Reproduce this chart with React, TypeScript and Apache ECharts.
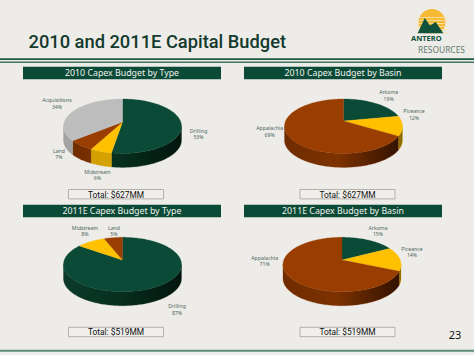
import React, { useEffect, useRef } from "react";
import * as echarts from "echarts";

const typeNames2010 = ["Drilling", "Midstream", "Land", "Acquisitions"];
const typeValues2010 = [53, 6, 7, 34];
const basinNames2010 = ["Arkoma", "Piceance", "Appalachia"];
const basinValues2010 = [19, 12, 69];
const typeNames2011 = ["Drilling", "Midstream", "Land"];
const typeValues2011 = [87, 8, 5];
const basinNames2011 = ["Arkoma", "Piceance", "Appalachia"];
const basinValues2011 = [15, 14, 71];

const GREEN = "#0b4a36";
const YELLOW = "#ffc000";
const RUST = "#993d00";
const GRAY = "#bdbdbd";
const BG = "#eeece8";
const LABEL = "#4d665d";

const sideStops: Record<string, string[]> = {
  [GREEN]: ["#0b3a2b", "#07301f", "#03150e"],
  [YELLOW]: ["#c99a00", "#d6a300", "#8a6a00"],
  [RUST]: ["#6f2c00", "#7d3200", "#301100"],
  [GRAY]: ["#a3a3a3", "#a3a3a3", "#6a6a6a"],
};

type Pie = {
  names: string[];
  values: number[];
  colors: string[];
  cx: number;
  top: number;
  vertexY: number;
  labels: number[][];
};

const pies: Pie[] = [
  {
    names: typeNames2010,
    values: typeValues2010,
    colors: [GREEN, YELLOW, RUST, GRAY],
    cx: 122.5,
    top: 99,
    vertexY: 122,
    labels: [[198.5, 134], [97.5, 175], [59, 154], [57, 103.5]],
  },
  {
    names: basinNames2010,
    values: basinValues2010,
    colors: [GREEN, YELLOW, RUST],
    cx: 343.5,
    top: 99,
    vertexY: 121,
    labels: [[388.7, 95.5], [414, 114.5], [269.7, 131.5]],
  },
  {
    names: typeNames2011,
    values: typeValues2011,
    colors: [GREEN, YELLOW, RUST],
    cx: 122.5,
    top: 237.3,
    vertexY: 260,
    labels: [[177, 309.5], [85, 231], [114, 231]],
  },
  {
    names: basinNames2011,
    values: basinValues2011,
    colors: [GREEN, YELLOW, RUST],
    cx: 342,
    top: 237.3,
    vertexY: 260,
    labels: [[378, 231], [412, 252], [264.7, 261]],
  },
];

const RX = 59;
const RY = 27.2;
const DEPTH = 14;

function pieSeries(p: Pie) {
  const total = p.values.reduce((a, b) => a + b, 0);
  const ey = p.top + RY;
  const rim = (t: number, dy = 0) => [
    p.cx + RX * Math.sin(t),
    ey - RY * Math.cos(t) + dy,
  ];
  return {
    type: "custom",
    coordinateSystem: "none",
    silent: true,
    data: p.values.map((v) => [v]),
    renderItem: (params: any, api: any) => {
      const i = params.dataIndex;
      const before = p.values.slice(0, i).reduce((a, b) => a + b, 0);
      const a0 = (before / total) * Math.PI * 2;
      const a1 = ((before + api.value(0)) / total) * Math.PI * 2;
      const color = p.colors[i];
      const step = Math.PI / 120;
      const arc = (s: number, e: number, dy = 0) => {
        const pts: number[][] = [];
        for (let t = s; t < e; t += step) pts.push(rim(t, dy));
        pts.push(rim(e, dy));
        return pts;
      };
      const children: any[] = [];
      const s = Math.max(a0, Math.PI / 2);
      const e = Math.min(a1, (Math.PI * 3) / 2);
      if (e > s) {
        const stops = sideStops[color];
        children.push({
          type: "polygon",
          shape: { points: [...arc(s, e), ...arc(s, e, DEPTH).reverse()] },
          style: {
            fill: new echarts.graphic.LinearGradient(
              p.cx - RX, 0, p.cx + RX, 0,
              [
                { offset: 0, color: stops[0] },
                { offset: 0.45, color: stops[1] },
                { offset: 1, color: stops[2] },
              ],
              true
            ),
            stroke: stops[1],
            lineWidth: 0.3,
          },
        });
      }
      children.push({
        type: "polygon",
        shape: { points: [[p.cx, p.vertexY], ...arc(a0, a1)] },
        style: { fill: color, stroke: color, lineWidth: 0.3 },
      });
      const [lx, ly] = p.labels[i];
      children.push({
        type: "text",
        x: lx,
        y: ly,
        style: {
          text: `${p.names[i]}\n${api.value(0)}%`,
          fill: LABEL,
          font: '5.2px "Noto Sans"',
          lineHeight: 6.6,
          align: "center",
          verticalAlign: "middle",
        },
      });
      return { type: "group", children };
    },
  };
}

const headers = [
  { text: "2010 Capex Budget by Type", x: 23, y: 66.7 },
  { text: "2010 Capex Budget by Basin", x: 244, y: 66.7 },
  { text: "2011E Capex Budget by Type", x: 23, y: 204.7 },
  { text: "2011E Capex Budget by Basin", x: 244, y: 204.7 },
];
const totals = [
  { text: "Total: $627MM", x: 68.5, y: 189.5 },
  { text: "Total: $627MM", x: 300, y: 189.5 },
  { text: "Total: $519MM", x: 68.5, y: 327.3 },
  { text: "Total: $519MM", x: 300, y: 327.3 },
];
const FONT = '"Noto Sans"';

function graphics() {
  const g: any[] = [];
  const rect = (x: number, y: number, w: number, h: number, style: any) =>
    g.push({ type: "rect", shape: { x, y, width: w, height: h }, style });
  const text = (x: number, y: number, t: string, font: string, fill: string, align = "center") =>
    g.push({ type: "text", x, y, style: { text: t, font, fill, align, verticalAlign: "middle" } });

  text(28.5, 41, "2010 and 2011E Capital Budget", `500 18.3px Roboto`, "#123a2d", "left");
  rect(0, 58.3, 474, 1.6, { fill: "#1f5a45" });
  rect(0, 61.6, 474, 1.4, { fill: "#3f7562" });
  rect(0, 349.8, 474, 2, { fill: "#5f8c79" });

  headers.forEach((h) => {
    rect(h.x, h.y, 198, 12.6, { fill: GREEN });
    text(h.x + 99, h.y + 6.6, h.text, `8.8px ${FONT}`, "#f2f2ee");
  });
  totals.forEach((b) => {
    rect(b.x, b.y, 95, 9.4, { fill: "#f0efec", stroke: "#b3b1aa", lineWidth: 1 });
    text(b.x + 47.5, b.y + 5, b.text, `8.4px Roboto`, "#111111");
  });
  text(455, 334.5, "23", `11px ${FONT}`, "#111111");

  // logo
  g.push({ type: "circle", shape: { cx: 432, cy: 22.5, r: 13.5 }, style: { fill: "#f5bb35" } });
  [17, 20, 23, 26, 29, 32].forEach((y) => rect(416, y, 32, 0.8, { fill: "#f7e3b0" }));
  g.push({ type: "polygon", shape: { points: [[417.5, 33.5], [424.8, 18], [430, 25.5], [435.7, 22], [443.5, 33.5]] }, style: { fill: "#12523c" } });
  rect(416, 33.5, 32, 2.5, { fill: BG });
  text(411, 38, "ANTERO", `bold 7.5px ${FONT}`, "#12523c", "left");
  text(418, 49, "RESOURCES", `8.4px ${FONT}`, "#5d7a6e", "left");
  return g;
}

export default function App() {
  const ref = useRef<HTMLDivElement>(null);
  useEffect(() => {
    document.body.style.margin = "0";
    const chart = echarts.init(ref.current!, undefined, { renderer: "svg" });
    chart.setOption({
      animation: false,
      backgroundColor: BG,
      graphic: graphics(),
      series: pies.map(pieSeries),
    });
    return () => chart.dispose();
  }, []);
  return <div ref={ref} style={{ width: 474, height: 355 }} />;
}
